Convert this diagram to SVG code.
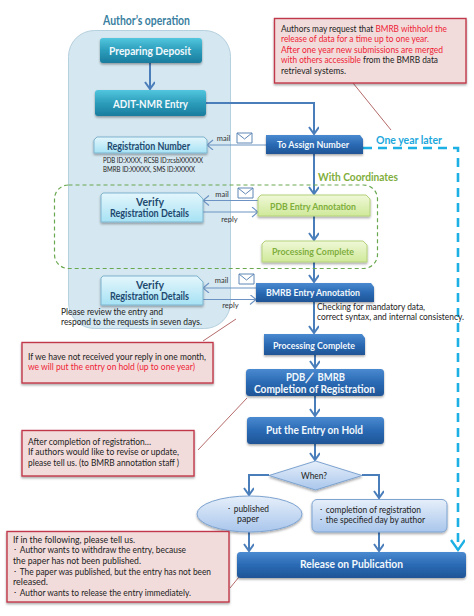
<svg xmlns="http://www.w3.org/2000/svg" width="474" height="616" viewBox="0 0 474 616">
<style>
text{font-family:Lato,"Liberation Sans",sans-serif;text-anchor:middle}
.b{font-weight:700}
.w{fill:#f2f8fc;font-weight:700}
.nv{fill:#1f4a70;font-weight:700}
.g{fill:#7fae3c;font-weight:700}
.s{font-size:9px;fill:#222;text-anchor:start}
.id{font-size:7.200px;fill:#222;text-anchor:start}
.d{font-size:9px;fill:#222}
.ds{font-size:9px;fill:#222;text-anchor:start}
.m{font-size:7.500px;fill:#333}
.r{fill:#ee1c36}
.c{fill:none;stroke:#4a7ebb;stroke-width:2}
.t{fill:none;stroke:#6c93c4;stroke-width:1.1}
.lead{fill:none;stroke:#b56a6a;stroke-width:1}
.note{fill:#f2dcdb;stroke:#c0394a;stroke-width:1.4;filter:url(#sh)}
.env{fill:#fff;stroke:#5f87b5;stroke-width:1}
</style>
<defs>
<linearGradient id="teal" x1="0" y1="0" x2="0" y2="1"><stop offset="0" stop-color="#52c6de"/><stop offset=".5" stop-color="#2c9dbb"/><stop offset="1" stop-color="#1a7c9e"/></linearGradient>
<linearGradient id="lb" x1="0" y1="0" x2="0" y2="1"><stop offset="0" stop-color="#e4f6fc"/><stop offset="1" stop-color="#a6e2f4"/></linearGradient>
<linearGradient id="grn" x1="0" y1="0" x2="0" y2="1"><stop offset="0" stop-color="#f0f8d8"/><stop offset="1" stop-color="#cfe99a"/></linearGradient>
<linearGradient id="blue" x1="0" y1="0" x2="0" y2="1"><stop offset="0" stop-color="#4a8ad0"/><stop offset=".5" stop-color="#2a6ab4"/><stop offset="1" stop-color="#1f5596"/></linearGradient>
<linearGradient id="pale" x1="0" y1="0" x2="0" y2="1"><stop offset="0" stop-color="#e6effa"/><stop offset="1" stop-color="#a9c6ec"/></linearGradient>
<filter id="sh" x="-10%" y="-20%" width="120%" height="140%"><feDropShadow dx="0" dy="1.5" stdDeviation="1" flood-color="#000" flood-opacity=".35"/></filter>
<marker id="a" markerWidth="12" markerHeight="12" refX="9" refY="5" orient="auto" markerUnits="userSpaceOnUse"><path d="M2 0 L9 5 L2 10" fill="none" stroke="#4a7ebb" stroke-width="2"/></marker>
<marker id="o" markerWidth="12" markerHeight="12" refX="8" refY="5" orient="auto" markerUnits="userSpaceOnUse"><path d="M2 0 L8 5 L2 10" fill="none" stroke="#6c93c4" stroke-width="1.1"/></marker>
<marker id="d" markerWidth="16" markerHeight="16" refX="11" refY="7" orient="auto" markerUnits="userSpaceOnUse"><path d="M1 0 L11 7 L1 14" fill="none" stroke="#1cb0e4" stroke-width="2.4"/></marker>
</defs>

<g id="authors-panel">
<rect x="68.500" y="30.500" width="162" height="298" rx="26" fill="#d5e7f0" stroke="#b5d0de" stroke-width="1"/>
<text x="146.500" y="24.500" font-size="12.500" class="b" fill="#3a7f9f" textLength="87" lengthAdjust="spacingAndGlyphs">Author’s operation</text>
</g>

<g id="connectors">
<path class="c" marker-end="url(#a)" d="M150 63V89"/>
<path class="c" marker-end="url(#a)" d="M206 103H314V134"/>
<path class="c" marker-end="url(#a)" d="M314 154V194"/>
<path class="c" marker-end="url(#a)" d="M314 216V240"/>
<path class="c" marker-end="url(#a)" d="M314 262V282"/>
<path class="c" marker-end="url(#a)" d="M314 302V333"/>
<path class="c" marker-end="url(#a)" d="M315 355V368"/>
<path class="c" marker-end="url(#a)" d="M315 396V416"/>
<path class="c" marker-end="url(#a)" d="M315 444V460"/>
<path class="c" marker-end="url(#a)" d="M269 475H249V495"/>
<path class="c" marker-end="url(#a)" d="M362 475H379V498"/>
<path class="c" marker-end="url(#a)" d="M249 532V551"/>
<path class="c" marker-end="url(#a)" d="M379 532V551"/>
<path class="t" marker-end="url(#o)" d="M266 145H207"/>
<path class="t" marker-end="url(#o)" d="M258 200.500H203"/>
<path class="t" marker-end="url(#o)" d="M203 212H258"/>
<path class="t" marker-end="url(#o)" d="M256 288H203"/>
<path class="t" marker-end="url(#o)" d="M203 299.500H256"/>
<path d="M363 148H458V550" fill="none" stroke="#1cb0e4" stroke-width="2.600" stroke-dasharray="9 6" marker-end="url(#d)"/>
<path class="lead" d="M353 83L391 130"/>
<path class="lead" d="M203 341L236 319"/>
<path class="lead" d="M198 450L247 398"/>
<path class="lead" d="M230 588L239 577"/>
</g>

<g id="coordinates-group">
<rect x="54.500" y="185" width="323" height="83.500" rx="14" fill="none" stroke="#6aa84f" stroke-width="1.200" stroke-dasharray="4 3"/>
<text x="358" y="181" font-size="11.500" class="g" textLength="80" lengthAdjust="spacingAndGlyphs">With Coordinates</text>
</g>

<g id="preparing-deposit"><rect x="100" y="38" width="102" height="25" rx="3" fill="url(#teal)" filter="url(#sh)"/><text x="150" y="55" font-size="12" class="w" textLength="82" lengthAdjust="spacingAndGlyphs">Preparing Deposit</text></g>
<g id="adit-nmr"><rect x="95" y="90" width="111" height="26" rx="3" fill="url(#teal)" filter="url(#sh)"/><text x="150.500" y="107.500" font-size="12" class="w" textLength="75" lengthAdjust="spacingAndGlyphs">ADIT-NMR Entry</text></g>
<g id="registration-number"><path d="M97 137H204L207 140V153H94V140Z" fill="url(#lb)" stroke="#7fb4cf" filter="url(#sh)"/><text x="148.500" y="149.500" font-size="10.500" class="nv" textLength="83" lengthAdjust="spacingAndGlyphs">Registration  Number</text></g>
<g id="id-note"><text class="id" x="103" y="163" textLength="100" lengthAdjust="spacingAndGlyphs">PDB ID:XXXX, RCSB ID:rcsbXXXXXX</text><text class="id" x="103" y="172" textLength="92" lengthAdjust="spacingAndGlyphs">BMRB ID:XXXXX, SMS ID:XXXXX</text></g>

<g id="verify-1"><path d="M103 193H197L203 199V222H101V195Z" fill="url(#lb)" stroke="#7fb4cf" filter="url(#sh)"/><text x="150" y="205.500" font-size="10.500" class="nv">Verify</text><text x="149.500" y="216.500" font-size="10.500" class="nv" textLength="79" lengthAdjust="spacingAndGlyphs">Registration  Details</text></g>
<g id="verify-2"><path d="M103 276H197L203 282V305H101V278Z" fill="url(#lb)" stroke="#7fb4cf" filter="url(#sh)"/><text x="150" y="288.500" font-size="10.500" class="nv">Verify</text><text x="149.500" y="300" font-size="10.500" class="nv" textLength="79" lengthAdjust="spacingAndGlyphs">Registration  Details</text></g>

<g id="to-assign-number"><path d="M266 135H360L363 139V154H266Z" fill="url(#blue)" filter="url(#sh)"/><text x="313" y="148" font-size="10" class="w" textLength="72" lengthAdjust="spacingAndGlyphs">To Assign Number</text></g>
<g id="pdb-annotation"><path d="M261 195H366L370 199V216H258V198Z" fill="url(#grn)" stroke="#b5d27a" filter="url(#sh)"/><text x="313" y="210" font-size="10" class="g" textLength="86" lengthAdjust="spacingAndGlyphs">PDB Entry  Annotation</text></g>
<g id="processing-green"><path d="M265 241H363L367 245V262H262V244Z" fill="url(#grn)" stroke="#b5d27a" filter="url(#sh)"/><text x="313" y="255" font-size="10" class="g" textLength="82" lengthAdjust="spacingAndGlyphs">Processing  Complete</text></g>
<g id="bmrb-annotation"><path d="M256 283H371L374 287V302H256Z" fill="url(#blue)" filter="url(#sh)"/><text x="313" y="296" font-size="10" class="w" textLength="94" lengthAdjust="spacingAndGlyphs">BMRB Entry  Annotation</text></g>
<g id="processing-blue"><path d="M264 334H362L365 338V355H264Z" fill="url(#blue)" filter="url(#sh)"/><text x="314" y="349" font-size="10" class="w" textLength="82" lengthAdjust="spacingAndGlyphs">Processing  Complete</text></g>
<g id="completion"><rect x="246" y="369" width="138" height="27" rx="3.500" fill="url(#blue)" filter="url(#sh)"/><text x="315.500" y="380.500" font-size="11.500" class="w" textLength="59" lengthAdjust="spacingAndGlyphs">PDB／ BMRB</text><text x="314.500" y="392.500" font-size="11.500" class="w" textLength="121" lengthAdjust="spacingAndGlyphs">Completion of Registration</text></g>
<g id="on-hold"><rect x="247" y="417" width="137" height="27" rx="3.500" fill="url(#blue)" filter="url(#sh)"/><text x="314.500" y="433.500" font-size="12" class="w" textLength="97" lengthAdjust="spacingAndGlyphs">Put the Entry on Hold</text></g>
<g id="when"><path d="M315.500 461L362 475.500L315.500 490L269 475.500Z" fill="url(#pale)" stroke="#7da3d0" filter="url(#sh)"/><text x="314" y="478.500" class="d" textLength="26" lengthAdjust="spacingAndGlyphs">When?</text></g>
<g id="published"><ellipse cx="249.500" cy="514" rx="52.500" ry="18" fill="url(#pale)" stroke="#7da3d0" filter="url(#sh)"/><text x="248" y="511.500" class="d" textLength="42" lengthAdjust="spacingAndGlyphs">･ published</text><text x="248" y="522" class="d" textLength="22" lengthAdjust="spacingAndGlyphs">paper</text></g>
<g id="completion-day"><rect x="312" y="499.500" width="135" height="32.500" rx="5" fill="url(#pale)" stroke="#7da3d0" filter="url(#sh)"/><text x="319" y="513" class="ds" textLength="102" lengthAdjust="spacingAndGlyphs">･ completion of registration</text><text x="319" y="523" class="ds" textLength="106" lengthAdjust="spacingAndGlyphs">･ the specified day by author</text></g>
<g id="release"><rect x="237" y="552" width="229" height="26" rx="3.500" fill="url(#blue)" filter="url(#sh)"/><text x="351.500" y="568" font-size="11.500" class="w" textLength="103" lengthAdjust="spacingAndGlyphs">Release on Publication</text></g>

<g id="mail-labels">
<path class="env" d="M237 133H252V143H237ZM237 133L244.500 139L252 133"/>
<path class="env" d="M238 188H253V198H238ZM238 188L245.500 194L253 188"/>
<path class="env" d="M239 274H254V284H239ZM239 274L246.500 280L254 274"/>
<text class="m" x="223.500" y="141">mail</text>
<text class="m" x="222" y="196.500">mail</text>
<text class="m" x="229.500" y="221.500">reply</text>
<text class="m" x="221.500" y="282.500">mail</text>
<text class="m" x="230.500" y="307.500">reply</text>
</g>

<g id="free-text">
<text x="409" y="144" font-size="12" class="b" fill="#1ca7dc" textLength="66" lengthAdjust="spacingAndGlyphs">One  year later</text>
<text class="s" x="61" y="315" textLength="102" lengthAdjust="spacingAndGlyphs">Please review the entry and</text>
<text class="s" x="61" y="325" textLength="141" lengthAdjust="spacingAndGlyphs">respond to the requests in seven days.</text>
<text class="s" x="317" y="310" textLength="108" lengthAdjust="spacingAndGlyphs">Checking for mandatory data,</text>
<text class="s" x="317" y="320" textLength="147" lengthAdjust="spacingAndGlyphs">correct syntax, and internal consistency.</text>
</g>

<g id="note-withhold"><rect class="note" x="274.500" y="18.500" width="191.500" height="64.500"/>
<text class="s" x="281" y="32" textLength="166" lengthAdjust="spacingAndGlyphs">Authors may request that <tspan class="r">BMRB withhold the</tspan></text>
<text class="s" x="281" y="42" textLength="148" lengthAdjust="spacingAndGlyphs" style="fill:#ee1c36">release of data for a time up to one year.</text>
<text class="s" x="281" y="53" textLength="162" lengthAdjust="spacingAndGlyphs" style="fill:#ee1c36">After one year  new submissions are merged</text>
<text class="s" x="281" y="63" textLength="157" lengthAdjust="spacingAndGlyphs"><tspan class="r">with others accessible</tspan> from the BMRB data</text>
<text class="s" x="281" y="74" textLength="65" lengthAdjust="spacingAndGlyphs">retrieval systems.</text></g>
<g id="note-month"><rect class="note" x="22" y="342.500" width="191" height="40.500"/>
<text class="s" x="28" y="360" textLength="178" lengthAdjust="spacingAndGlyphs">If we have not received your reply in one month,</text>
<text class="s" x="28" y="370" textLength="167" lengthAdjust="spacingAndGlyphs" style="fill:#ee1c36">we will put the entry on hold  (up to one year)</text></g>
<g id="note-update"><rect class="note" x="22" y="430.500" width="172" height="45.500"/>
<text class="s" x="28" y="445" textLength="123" lengthAdjust="spacingAndGlyphs">After completion of registration…</text>
<text class="s" x="28" y="455" textLength="151" lengthAdjust="spacingAndGlyphs">If authors would  like to revise or update,</text>
<text class="s" x="28" y="466" textLength="151" lengthAdjust="spacingAndGlyphs">please tell us. (to BMRB annotation staff )</text></g>
<g id="note-following"><rect class="note" x="7" y="531.500" width="222" height="70.500"/>
<text class="s" x="13" y="543" textLength="122" lengthAdjust="spacingAndGlyphs">If in the following,  please  tell us.</text>
<text class="s" x="13" y="553" textLength="173" lengthAdjust="spacingAndGlyphs">･ Author wants to withdraw the entry,  because</text>
<text class="s" x="13" y="564" textLength="128" lengthAdjust="spacingAndGlyphs">the paper  has not been published.</text>
<text class="s" x="13" y="575" textLength="198" lengthAdjust="spacingAndGlyphs">･ The paper was published, but the entry has not been</text>
<text class="s" x="13" y="585" textLength="35" lengthAdjust="spacingAndGlyphs">released.</text>
<text class="s" x="13" y="596" textLength="178" lengthAdjust="spacingAndGlyphs">･ Author wants to release the entry immediately.</text></g>
</svg>
